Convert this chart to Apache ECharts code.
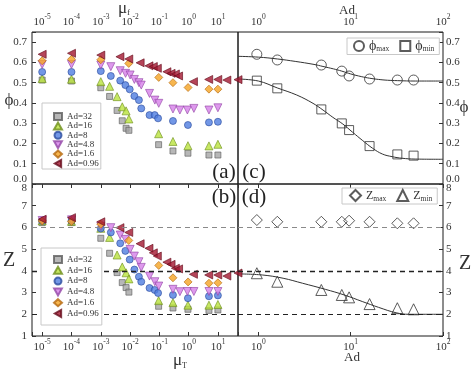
<!DOCTYPE html>
<html><head><meta charset="utf-8">
<script src="https://cdn.jsdelivr.net/npm/echarts@6/dist/echarts.min.js"></script>
<style>html,body{margin:0;padding:0;background:#fff}#c{width:474px;height:370px}</style>
</head><body><div id="c"></div>
<script>
// ---------------- data ----------------
// left panels: mu values (shared by phi and Z panels) per Ad
const mu32 = [1e-5,1e-4,1e-3,2e-3,3.6e-3,5.4e-3,7.3e-3,9.1e-3,0.094,0.29,0.94,4.9,9.9];
const phi32 = [0.513,0.508,0.475,0.432,0.363,0.312,0.275,0.265,0.194,0.163,0.152,0.143,0.143];
const z32 = [6.22,6.22,5.5,4.81,3.92,3.46,3.23,3.02,2.37,2.29,2.23,2.18,2.2];

const mu16 = [1e-5,1e-4,1e-3,2e-3,3.6e-3,5.4e-3,7.3e-3,9.1e-3,0.094,0.29,0.94,4.9,9.9];
const phi16 = [0.52,0.517,0.505,0.482,0.431,0.381,0.361,0.321,0.248,0.21,0.189,0.188,0.196];
const z16 = [6.3,6.28,5.96,5.54,4.73,4.18,3.91,3.63,2.63,2.54,2.42,2.42,2.45];

const mu8 = [1e-5,1e-4,1e-3,2.2e-3,4.6e-3,6.9e-3,9.7e-3,0.014,0.02,0.024,0.046,0.069,0.09,0.29,0.94,4.9,9.9];
const phi8 = [0.553,0.553,0.557,0.533,0.51,0.488,0.467,0.434,0.414,0.373,0.34,0.34,0.324,0.311,0.291,0.304,0.307];
const z8 = [6.3,6.3,5.95,5.77,5.27,4.92,4.52,4.06,3.73,3.5,3.21,3.12,2.98,2.89,2.74,2.83,2.87];

const mu48 = [1e-5,1e-4,1e-3,2.2e-3,4.6e-3,7e-3,1e-2,1.4e-2,2e-2,2.4e-2,4.6e-2,7e-2,0.095,0.29,0.5,0.9,1.5,4.9,9.9];
const phi48 = [0.59,0.59,0.587,0.579,0.559,0.546,0.538,0.516,0.5,0.488,0.447,0.414,0.398,0.37,0.365,0.365,0.373,0.365,0.376];
const z48 = [6.32,6.35,6.05,5.99,5.65,5.45,4.99,4.68,4.42,4.16,3.76,3.5,3.3,3.15,3.04,3.05,3.05,3.05,3.05];

const mu1p6 = [1e-5,1e-4,1e-3,9e-3,0.095,0.29,0.95,4.9,9.9];
const phi1p6 = [0.608,0.615,0.613,0.595,0.526,0.5,0.476,0.468,0.468];
const z1p6 = [6.3,6.27,6.15,5.4,4.25,3.68,3.49,3.43,3.45];

const mu096 = [1e-5,1e-4,1e-3,4.5e-3,9e-3,0.022,0.044,0.062,0.085,0.18,0.25,0.35,0.45,1.45,4.8,9.8,20,48];
const phi096 = [0.64,0.645,0.636,0.628,0.617,0.598,0.583,0.58,0.571,0.554,0.546,0.543,0.533,0.505,0.516,0.516,0.513,0.515];
const z096 = [6.38,6.45,6.26,5.99,5.77,5.25,5.04,4.83,4.68,4.4,4.3,4.12,4.09,3.84,3.81,3.81,3.76,3.9];

// right panels
const adVals = [0.96,1.6,4.8,8,9.6,16,32,48];
const phiMax = [0.64,0.612,0.587,0.557,0.533,0.518,0.513,0.513];
const phiMin = [0.51,0.472,0.368,0.299,0.266,0.187,0.146,0.14];
const zMax = [6.34,6.26,6.26,6.26,6.31,6.26,6.19,6.19];
const zMin = [3.89,3.5,3.12,2.89,2.78,2.47,2.28,2.23];

// fitted curves
const fitMaxAd = [0.6,1,1.6,2.5,4,5,6.5,8,10,13,16,20,25,32,50,100];
const fitMaxPhi = [0.63,0.626,0.617,0.605,0.59,0.58,0.568,0.557,0.543,0.53,0.522,0.516,0.512,0.51,0.508,0.508];
const fitMinAd = [0.6,1,1.6,2.6,3.9,5,6.4,8.2,10.5,13.5,17.3,22,28,36,50,100];
const fitMinPhi = [0.518,0.508,0.474,0.439,0.398,0.365,0.329,0.296,0.255,0.214,0.176,0.148,0.135,0.127,0.123,0.122];
const fitZAd = [0.6,1.1,1.85,3,5.3,8.5,13.5,20,31,43,100];
const fitZ = [3.86,3.81,3.66,3.43,3.15,2.89,2.58,2.32,2.07,2.0,2.0];

const zLevels = [6,4,2];
const legendNames = ['Ad=32','Ad=16','Ad=8','Ad=4.8','Ad=1.6','Ad=0.96'];

// ---------------- chart ----------------
const F = "'Liberation Serif','DejaVu Serif',serif";
const C = '#333';
const zip = (a,b) => a.map((x,i)=>[x,b[i]]);

function pow10(v){
  const e = Math.log10(v), r = Math.round(e);
  if (Math.abs(e-r) > 1e-6) return '';
  return '{b|10}{s|' + r + '}';
}
const axRich = {
  b:{fontFamily:F,fontSize:11,color:C,lineHeight:15,verticalAlign:'bottom'},
  s:{fontFamily:F,fontSize:7.5,color:C,lineHeight:9,verticalAlign:'top'}
};
function xAx(g,pos,min,max){
  return {gridIndex:g,type:'log',logBase:10,position:pos,min:min,max:max,
    axisLine:{show:false},
    axisTick:{show:true,inside:true,length:4,lineStyle:{color:C}},
    splitLine:{show:false},
    axisLabel:{formatter:pow10,margin:pos==='top'?4:2,rich:axRich,color:C}};
}
function yAx(g,pos,min,max,interval,fmt){
  return {gridIndex:g,type:'value',position:pos,min:min,max:max,interval:interval,
    axisLine:{show:false},
    axisTick:{show:true,inside:true,length:4,lineStyle:{color:C}},
    splitLine:{show:false},
    axisLabel:{formatter:fmt,margin:pos==='left'?5:3,color:C,fontSize:11,fontFamily:F,
      rich:{lo:{fontFamily:F,fontSize:11,color:C,padding:[0,0,9,0]},
            hi:{fontFamily:F,fontSize:11,color:C,padding:[9,0,0,0]}}}};
}
const phiFmt = v => Math.abs(v) < 1e-9 ? '{lo|0.0}' : (v > 0.72 && v < 0.78 && Math.abs(v-0.7)>1e-6 ? '' : v.toFixed(1));
const zFmt = v => Math.abs(v-8) < 1e-9 ? '{hi|8}' : String(Math.round(v));

const styles = {
  'Ad=32':  {symbol:'rect',rot:0,color:'#a5a5a5',border:'#5c5c5c',size:6},
  'Ad=16':  {symbol:'triangle',rot:0,color:'#b9e23c',border:'#6e8f1c',size:8},
  'Ad=8':   {symbol:'circle',rot:0,color:'#4f7de0',border:'#2c4c9e',size:7},
  'Ad=4.8': {symbol:'triangle',rot:180,color:'#d67fe8',border:'#9246a6',size:8,icon:'path://M0,0L10,0L5,9Z'},
  'Ad=1.6': {symbol:'diamond',rot:0,color:'#f5a423',border:'#b4680f',size:8},
  'Ad=0.96':{symbol:'triangle',rot:90,color:'#a3162f',border:'#650b1b',size:8,icon:'path://M9,0L9,10L0,5Z'}
};
const leftSets = [
  ['Ad=32',mu32,phi32,z32],['Ad=16',mu16,phi16,z16],['Ad=8',mu8,phi8,z8],
  ['Ad=4.8',mu48,phi48,z48],['Ad=1.6',mu1p6,phi1p6,z1p6],['Ad=0.96',mu096,phi096,z096]
];
const series = [];
leftSets.forEach(([name,mu,phi,z]) => {
  const s = styles[name];
  const base = {type:'scatter',name:name,symbol:s.symbol,symbolRotate:s.rot,symbolSize:s.size,
    itemStyle:{color:s.color,borderColor:s.border,borderWidth:0.8},emphasis:{disabled:true}};
  series.push(Object.assign({},base,{xAxisIndex:0,yAxisIndex:0,data:zip(mu,phi)}));
  series.push(Object.assign({},base,{xAxisIndex:2,yAxisIndex:2,data:zip(mu,z)}));
});
const levelStyle = [{color:'#8a8a8a',width:1},{color:'#222',width:1.3},{color:'#222',width:1.1}];
const mkLine = {silent:true,symbol:['none','none'],label:{show:false},
  data: zLevels.map((v,i)=>({yAxis:v,lineStyle:{type:[5,4],color:levelStyle[i].color,width:levelStyle[i].width}}))};
// dashed guide lines
series.push({type:'line',xAxisIndex:2,yAxisIndex:2,data:[],silent:true,markLine:mkLine});
// right panels
const hollow = (name,sym,size,x,y,xi,yi,rot) => ({type:'scatter',name:name,symbol:sym,symbolSize:size,symbolRotate:rot||0,
  xAxisIndex:xi,yAxisIndex:yi,data:zip(x,y),
  itemStyle:{color:'rgba(255,255,255,0)',borderColor:'#333',borderWidth:1},emphasis:{disabled:true},z:3});
const fitLine = (x,y,xi,yi,extra) => Object.assign({type:'line',smooth:0.4,symbol:'none',xAxisIndex:xi,yAxisIndex:yi,
  data:zip(x,y),lineStyle:{color:'#333',width:1},silent:true,z:2},extra||{});
series.push(fitLine(fitMaxAd,fitMaxPhi,1,1));
series.push(fitLine(fitMinAd,fitMinPhi,1,1));
series.push(fitLine(fitZAd,fitZ,3,3,{markLine:mkLine}));
series.push(hollow('phimax','circle',10,adVals,phiMax,1,1));
series.push(hollow('phimin','rect',9,adVals,phiMin,1,1));
series.push(hollow('zmax','diamond',11,adVals,zMax,3,3));
series.push(hollow('zmin','triangle',11,adVals,zMin,3,3));

const legendData = legendNames.map(n => styles[n].icon ? {name:n, icon:styles[n].icon} : {name:n});
const legendBase = {orient:'vertical',selectedMode:false,itemWidth:8,itemHeight:7,
  backgroundColor:'#fff',borderColor:'#c8c8c8',borderWidth:1,z:10,
  textStyle:{fontFamily:F,fontSize:9,color:C,lineHeight:9},data:legendData};
const subRich = {
  g:{fontFamily:F,fontSize:14,color:C,lineHeight:15,verticalAlign:'middle'},
  z:{fontFamily:F,fontSize:12,color:C,lineHeight:15,verticalAlign:'middle'},
  s:{fontFamily:F,fontSize:7.5,color:C,lineHeight:8,verticalAlign:'bottom'}
};
const nameMap = {phimax:'{g|ϕ}{s|max}',phimin:'{g|ϕ}{s|min}',zmax:'{z|Z}{s|max}',zmin:'{z|Z}{s|min}'};

const option = {
  animation:false,
  backgroundColor:'#fff',
  textStyle:{fontFamily:F},
  grid:[
    {left:32,top:32,width:206,height:152,show:true,borderColor:'#1a1a1a',borderWidth:1,backgroundColor:'transparent'},
    {left:238,top:32,width:205,height:152,show:true,borderColor:'#1a1a1a',borderWidth:1,backgroundColor:'transparent'},
    {left:32,top:184,width:206,height:152,show:true,borderColor:'#1a1a1a',borderWidth:1,backgroundColor:'transparent'},
    {left:238,top:184,width:205,height:152,show:true,borderColor:'#1a1a1a',borderWidth:1,backgroundColor:'transparent'}
  ],
  xAxis:[xAx(0,'top',4.5e-6,48),xAx(1,'top',0.6,100),xAx(2,'bottom',4.5e-6,48),xAx(3,'bottom',0.6,100)],
  yAxis:[yAx(0,'left',0,0.75,0.1,phiFmt),yAx(1,'right',0,0.75,0.1,phiFmt),
         yAx(2,'left',1,8,1,zFmt),yAx(3,'right',1,8,1,zFmt)],
  legend:[
    Object.assign({},legendBase,{left:42,top:103,padding:[9,2,1,11],itemGap:0.4}),
    Object.assign({},legendBase,{left:41,top:248,padding:[7,3,7,12],itemGap:1.8}),
    {orient:'horizontal',selectedMode:false,left:347,top:38,padding:[1,5,1,6],itemGap:10,itemWidth:10,itemHeight:10,
      backgroundColor:'#fff',borderColor:'#c8c8c8',borderWidth:1,data:['phimax','phimin'],
      formatter:n=>nameMap[n],textStyle:{fontFamily:F,color:C,rich:subRich}},
    {orient:'horizontal',selectedMode:false,left:342,top:188,padding:[1,5,1,7],itemGap:10,itemWidth:11,itemHeight:11,
      backgroundColor:'#fff',borderColor:'#c8c8c8',borderWidth:1,data:['zmax','zmin'],
      formatter:n=>nameMap[n],textStyle:{fontFamily:F,color:C,rich:subRich}}
  ],
  series:series,
  graphic:[
    {type:'text',x:224,y:172,style:{text:'(a)',font:'21px '+F,fill:'#222',align:'center',verticalAlign:'middle'},z:10},
    {type:'text',x:224,y:197,style:{text:'(b)',font:'21px '+F,fill:'#222',align:'center',verticalAlign:'middle'},z:10},
    {type:'text',x:254,y:172,style:{text:'(c)',font:'21px '+F,fill:'#222',align:'center',verticalAlign:'middle'},z:10},
    {type:'text',x:254,y:197,style:{text:'(d)',font:'21px '+F,fill:'#222',align:'center',verticalAlign:'middle'},z:10},
    {type:'text',x:124,y:9,style:{text:'{m|μ}{s|f}',align:'center',verticalAlign:'middle',
      rich:{m:{fontFamily:F,fontSize:17,fill:C,lineHeight:17},s:{fontFamily:F,fontSize:9,fill:C,lineHeight:9,verticalAlign:'bottom'}}}},
    {type:'text',x:180,y:361,style:{text:'{m|μ}{s|T}',align:'center',verticalAlign:'middle',
      rich:{m:{fontFamily:F,fontSize:17,fill:C,lineHeight:17},s:{fontFamily:F,fontSize:8,fill:C,lineHeight:8,verticalAlign:'bottom'}}}},
    {type:'text',x:347,y:11,style:{text:'Ad',font:'13px '+F,fill:C,align:'center',verticalAlign:'middle'}},
    {type:'text',x:352,y:358,style:{text:'Ad',font:'13px '+F,fill:C,align:'center',verticalAlign:'middle'}},
    {type:'text',x:9,y:101,style:{text:'ϕ',font:'17px '+F,fill:C,align:'center',verticalAlign:'middle'}},
    {type:'text',x:464,y:108,style:{text:'ϕ',font:'17px '+F,fill:C,align:'center',verticalAlign:'middle'}},
    {type:'text',x:9,y:261,style:{text:'Z',font:'20px '+F,fill:C,align:'center',verticalAlign:'middle'}},
    {type:'text',x:465,y:264,style:{text:'Z',font:'20px '+F,fill:C,align:'center',verticalAlign:'middle'}}
  ]
};
const chart = echarts.init(document.getElementById('c'),null,{renderer:'canvas'});
chart.setOption(option);
</script>
</body></html>
